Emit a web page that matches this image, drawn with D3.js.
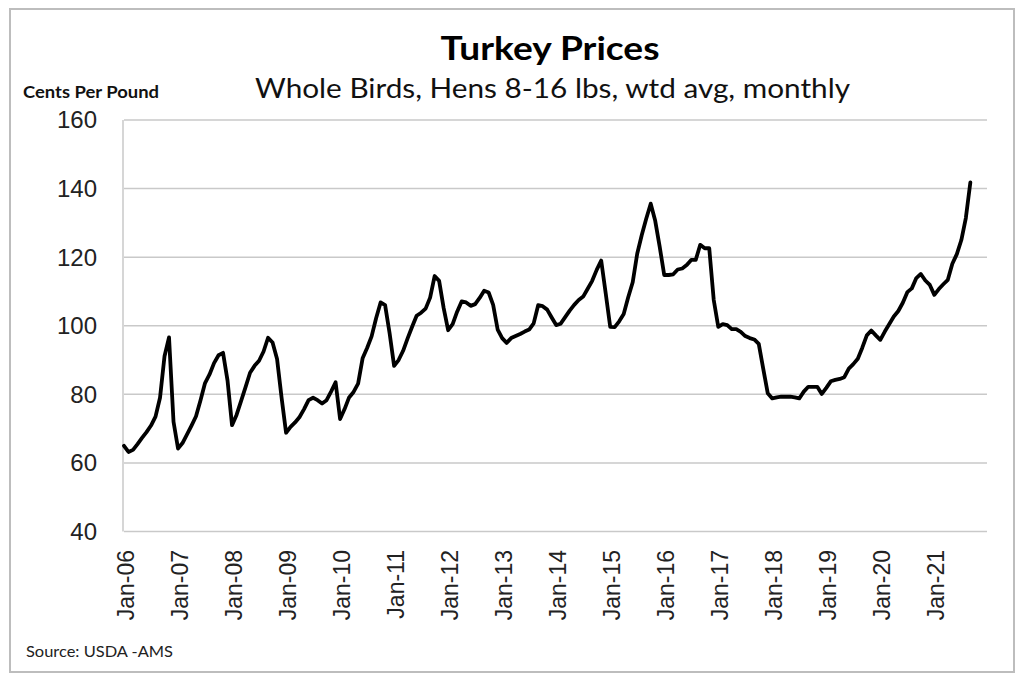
<!DOCTYPE html>
<html>
<head>
<meta charset="utf-8">
<script src="https://cdn.jsdelivr.net/npm/d3@7"></script>
<style>
  body { margin: 0; background: #fff; }
  svg { display: block; }
</style>
</head>
<body>
<div id="chart"></div>
<script>
// monthly wtd avg, cents per pound, starting Jan 2006
const startYear = 2006;
const prices = [
  65.0, 63.2, 63.8, 65.5, 67.3, 69.0, 70.9, 73.5, 79.0, 91.1, 96.6, 72.0,
  64.2, 65.8, 68.3, 70.9, 73.6, 78.3, 83.3, 85.8, 89.1, 91.4, 92.1, 84.0,
  71.0, 74.0, 78.0, 82.1, 86.3, 88.3, 89.8, 92.5, 96.5, 95.1, 90.3, 79.1,
  68.8, 70.5, 71.8, 73.4, 75.7, 78.3, 79.0, 78.3, 77.3, 78.3, 80.8, 83.5,
  72.8, 75.7, 79.1, 80.7, 83.1, 90.5, 93.5, 96.9, 102.2, 106.8, 106.0, 97.8,
  88.3, 90.0, 92.7, 96.3, 99.7, 102.9, 103.8, 105.0, 108.2, 114.5, 113.1, 105.2,
  98.7, 100.5, 104.1, 107.1, 106.8, 105.8, 106.3, 108.1, 110.2, 109.7, 106.1, 98.9,
  96.4, 95.0, 96.4, 97.0, 97.6, 98.3, 98.9, 100.7, 106.0, 105.7, 104.7, 102.4,
  100.2, 100.6, 102.5, 104.4, 106.1, 107.5, 108.5, 110.8, 113.1, 116.3, 119.0, 109.5,
  99.7, 99.6, 101.3, 103.4, 108.3, 112.7, 121.0, 126.4, 131.2, 135.6, 130.6, 123.0,
  114.8, 114.8, 115.0, 116.4, 116.7, 117.7, 119.2, 119.2, 123.6, 122.6, 122.6, 107.5,
  99.7, 100.5, 100.2, 99.0, 99.0, 98.2, 97.0, 96.4, 96.0, 94.7, 87.4, 80.3,
  78.8, 79.1, 79.3, 79.3, 79.3, 79.1, 78.8, 80.8, 82.2, 82.2, 82.2, 80.1,
  81.9, 83.8, 84.2, 84.5, 85.0, 87.5, 88.8, 90.4, 93.6, 97.2, 98.6, 97.2,
  95.9, 98.3, 100.5, 102.7, 104.3, 106.7, 109.8, 110.9, 113.9, 115.1, 113.2, 111.9,
  109.0, 110.7, 112.1, 113.4, 118.1, 120.9, 125.0, 131.4, 141.8
];
const xTickLabels = ["Jan-06","Jan-07","Jan-08","Jan-09","Jan-10","Jan-11","Jan-12","Jan-13",
  "Jan-14","Jan-15","Jan-16","Jan-17","Jan-18","Jan-19","Jan-20","Jan-21"];
const yTicks = [40, 60, 80, 100, 120, 140, 160];

const width = 1024, height = 684;
const plot = { left: 124, right: 987, top: 120, bottom: 531.5 };

const svg = d3.select("#chart").append("svg")
  .attr("width", width)
  .attr("height", height);

// outer frame
svg.append("rect")
  .attr("x", 10).attr("y", 9)
  .attr("width", 1004).attr("height", 663)
  .attr("fill", "#fff")
  .attr("stroke", "#bdbdbd")
  .attr("stroke-width", 2);

const x = d3.scaleLinear()
  .domain([0, 191.7])
  .range([plot.left, plot.right]);

const y = d3.scaleLinear()
  .domain([40, 160])
  .range([plot.bottom, plot.top]);

// gridlines
svg.append("g")
  .selectAll("line")
  .data(yTicks)
  .join("line")
  .attr("x1", plot.left).attr("x2", plot.right)
  .attr("y1", d => y(d)).attr("y2", d => y(d))
  .attr("stroke", "#c9c9c9")
  .attr("stroke-width", 1.5);

// left axis line
svg.append("line")
  .attr("x1", plot.left - 1).attr("x2", plot.left - 1)
  .attr("y1", plot.top).attr("y2", plot.bottom)
  .attr("stroke", "#c9c9c9")
  .attr("stroke-width", 1.5);

// y labels
svg.append("g")
  .selectAll("text")
  .data(yTicks)
  .join("text")
  .attr("x", 97)
  .attr("y", d => y(d))
  .attr("dy", "0.35em")
  .attr("text-anchor", "end")
  .attr("font-family", "Liberation Sans, Arial, sans-serif")
  .attr("font-size", 24)
  .attr("fill", "#222")
  .text(d => d);

// x labels (rotated)
svg.append("g")
  .selectAll("text")
  .data(xTickLabels)
  .join("text")
  .attr("transform", (d, i) => `translate(${x(i * 12) + 2},550) rotate(-90)`)
  .attr("dy", "0.35em")
  .attr("text-anchor", "end")
  .attr("font-family", "Liberation Sans, Arial, sans-serif")
  .attr("font-size", 23)
  .attr("fill", "#222")
  .text(d => d);

// price line
const line = d3.line()
  .x((d, i) => x(i))
  .y(d => y(d));

svg.append("path")
  .datum(prices)
  .attr("d", line)
  .attr("fill", "none")
  .attr("stroke", "#000")
  .attr("stroke-width", 3.8)
  .attr("stroke-linejoin", "round")
  .attr("stroke-linecap", "round");

// titles
svg.append("text")
  .attr("x", 550).attr("y", 60)
  .attr("text-anchor", "middle")
  .attr("font-family", "Lato, Open Sans, sans-serif")
  .attr("font-weight", "bold")
  .attr("font-size", 33)
  .attr("textLength", 219)
  .attr("lengthAdjust", "spacingAndGlyphs")
  .text("Turkey Prices");

svg.append("text")
  .attr("x", 255).attr("y", 98)
  .attr("font-family", "Lato, Open Sans, sans-serif")
  .attr("font-size", 26)
  .attr("fill", "#111")
  .attr("textLength", 595)
  .attr("lengthAdjust", "spacingAndGlyphs")
  .text("Whole Birds, Hens 8-16 lbs, wtd avg, monthly");

svg.append("text")
  .attr("x", 23).attr("y", 98)
  .attr("font-family", "Lato, Open Sans, sans-serif")
  .attr("font-weight", "bold")
  .attr("font-size", 17)
  .attr("fill", "#111")
  .attr("textLength", 136)
  .attr("lengthAdjust", "spacingAndGlyphs")
  .text("Cents Per Pound");

svg.append("text")
  .attr("x", 26).attr("y", 657)
  .attr("font-family", "Lato, Open Sans, sans-serif")
  .attr("font-size", 16)
  .attr("fill", "#222")
  .attr("textLength", 147)
  .attr("lengthAdjust", "spacingAndGlyphs")
  .text("Source: USDA -AMS");
</script>
</body>
</html>
